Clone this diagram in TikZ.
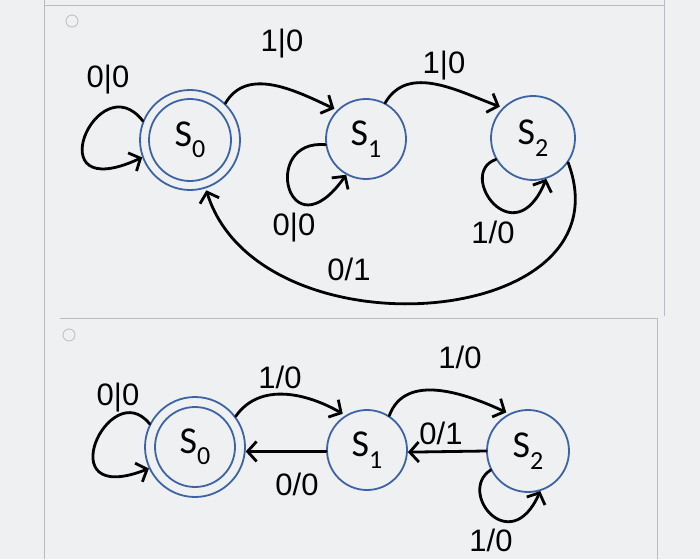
\documentclass[tikz,border=0pt]{standalone}
\usepackage{fontspec}
\setmainfont{Liberation Sans}
\newfontfamily\carl{Carlito}
\usetikzlibrary{arrows.meta,calc}
\definecolor{stblue}{HTML}{3B63A6}
\definecolor{bgc}{HTML}{EEF0F1}
\definecolor{framec}{HTML}{B8BCC0}
\newcommand{\Sl}[1]{S\raisebox{-0.30em}{\fontsize{26}{26}\selectfont #1}}
\begin{document}
\begin{tikzpicture}[x=1pt,y=-1pt,
  st/.style={circle, draw=stblue, line width=1.8pt, inner sep=0pt, minimum size=#1, font=\carl\fontsize{38}{38}\selectfont},
  ring/.style={circle, draw=stblue, line width=1.8pt, inner sep=0pt, minimum size=#1},
  tr/.style={draw=black, line width=2.8pt, line cap=round, line join=round, -{Straight Barb[length=9pt,width=20pt]}},
  lbl/.style={font=\fontsize{31}{31}\selectfont, inner sep=1pt},
  radio/.style={circle, draw=framec, line width=0.8pt, minimum size=12pt, inner sep=0pt},
  frame/.style={draw=framec, line width=1pt}]
\fill[bgc] (0,0) rectangle (700,559);
\useasboundingbox (0,0) rectangle (700,559);
% panel frame
\draw[frame] (44,0) -- (44,559);
\draw[frame] (44,6) -- (664,6);
\draw[frame] (664,0) -- (664,316);
\draw[frame] (60,318) -- (657,318);
\draw[frame] (657,318) -- (657,559);
\node[radio] (r1) at (72,21) {};
\node[radio] (r2) at (69,335) {};

% ---------- top diagram ----------
\node[st=82pt] (s0) at (190,140) {\Sl{0}};
\node[ring=100pt] (s0r) at (s0) {};
\node[st=80pt] (s1) at (366,139) {\Sl{1}};
\node[st=84pt] (s2) at (533,138) {\Sl{2}};

\draw[tr] (s0r.158) .. controls +(-45,-58) and +(-108,50) .. (s0r.200);
\draw[tr, shorten >=3pt] (s0r.46) to[out=60,in=155] (s1.135);
\draw[tr, shorten >=3pt] (s1.62) to[out=60,in=160] (s2.135);
\draw[tr] (s1.188) .. controls +(-66,-6) and +(-58,82) .. (s1.241);
\draw[tr] (s2.210) .. controls +(-40,14) and +(-32,78) .. (s2.288);
\draw[tr, shorten >=2pt] (s2.-35) .. controls +(63,168) and +(53,170) .. (s0r.-72);

\node[lbl] (l1) at (108,80) {0|0};
\node[lbl] (l2) at (282,44) {1|0};
\node[lbl] (l3) at (444,66) {1|0};
\node[lbl] (l4) at (294,228) {0|0};
\node[lbl] (l5) at (493,232) {1/0};
\node[lbl] (l6) at (349,269) {0/1};

% ---------- bottom diagram ----------
\node[st=80pt] (t0) at (195,447) {\Sl{0}};
\node[ring=100pt] (t0r) at (t0) {};
\node[st=80pt] (t1) at (367,450) {\Sl{1}};
\node[st=82pt] (t2) at (528,451) {\Sl{2}};

\draw[tr] (t0r.153) .. controls +(-40,-50) and +(-102,40) .. (t0r.205);
\draw[tr, shorten >=3pt] (t0r.37) to[out=55,in=150] (t1.122);
\draw[tr] (t1.182) -- (t0r.-5);
\draw[tr, shorten >=3pt] (t1.57) to[out=70,in=155] (t2.117);
\draw[tr] (t2.180) -- (t1.-3);
\draw[tr] (t2.207) .. controls +(-34,22) and +(-30,68) .. (t2.287);

\node[lbl] (m1) at (118,398) {0|0};
\node[lbl] (m2) at (280,377) {1/0};
\node[lbl] (m3) at (297,484) {0/0};
\node[lbl] (m4) at (460,357) {1/0};
\node[lbl] (m5) at (441,433) {0/1};
\node[lbl] (m6) at (491,540) {1/0};
\end{tikzpicture}
\end{document}
